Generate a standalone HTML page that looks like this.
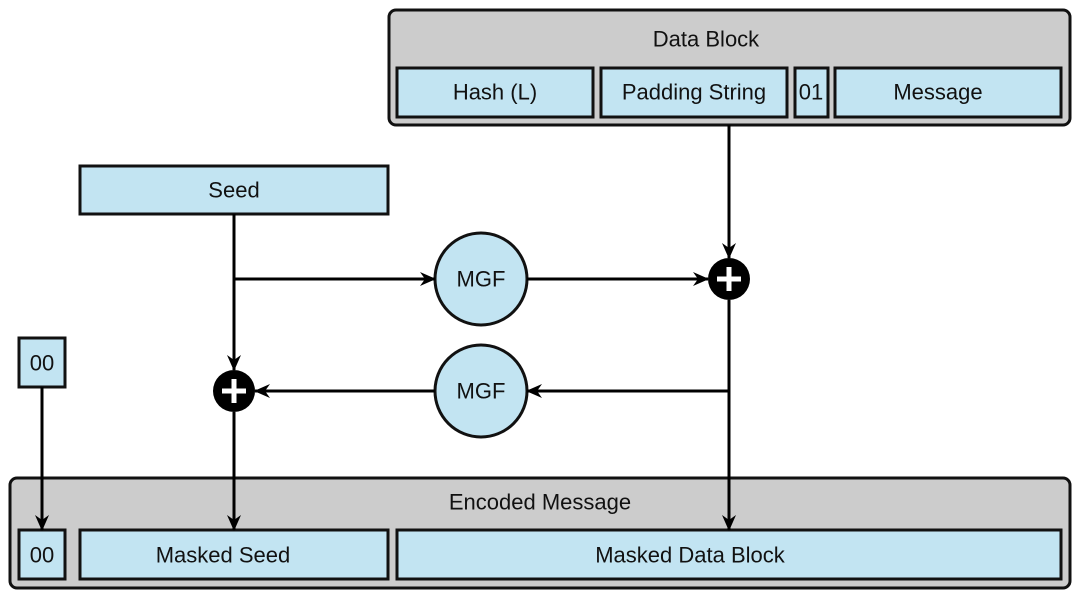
<!DOCTYPE html>
<html><head><meta charset="utf-8"><style>
html,body{margin:0;padding:0;background:#fff;}
svg{display:block;}
text{font-family:"Liberation Sans",sans-serif;font-size:22px;fill:#111;text-anchor:middle;dominant-baseline:central;}
</style></head><body>
<svg width="1080" height="598" viewBox="0 0 1080 598" xmlns="http://www.w3.org/2000/svg">
<defs>
<marker id="a" markerWidth="16" markerHeight="14" refX="15" refY="7" orient="auto" markerUnits="userSpaceOnUse">
<path d="M0,0 L16,7 L0,14 L5,7 Z" fill="#000"/>
</marker>
</defs>
<g stroke="#111" stroke-width="3">
<rect x="389" y="10" width="681" height="115" rx="7" fill="#cccccc"/>
<rect x="397" y="68" width="196" height="49" fill="#c2e4f2"/>
<rect x="601" y="68" width="186" height="49" fill="#c2e4f2"/>
<rect x="795" y="68" width="33" height="49" fill="#c2e4f2"/>
<rect x="835" y="68" width="226" height="49" fill="#c2e4f2"/>
<rect x="80" y="166" width="308" height="48" fill="#c2e4f2"/>
<rect x="19" y="338" width="46" height="49" fill="#c2e4f2"/>
<rect x="10" y="478" width="1060" height="110" rx="7" fill="#cccccc"/>
<rect x="19" y="530" width="46" height="49" fill="#c2e4f2"/>
<rect x="80" y="530" width="308" height="49" fill="#c2e4f2"/>
<rect x="397" y="530" width="664" height="49" fill="#c2e4f2"/>
<circle cx="481" cy="279" r="46" fill="#c2e4f2"/>
<circle cx="481" cy="391" r="46" fill="#c2e4f2"/>
</g>
<g stroke="#000" stroke-width="3" fill="none">
<line x1="234" y1="214" x2="234" y2="370" marker-end="url(#a)"/>
<line x1="234" y1="279" x2="435" y2="279" marker-end="url(#a)"/>
<line x1="527" y1="279" x2="708" y2="279" marker-end="url(#a)"/>
<line x1="729" y1="125" x2="729" y2="258" marker-end="url(#a)"/>
<line x1="729" y1="300" x2="729" y2="530" marker-end="url(#a)"/>
<line x1="729" y1="391" x2="527" y2="391" marker-end="url(#a)"/>
<line x1="435" y1="391" x2="255" y2="391" marker-end="url(#a)"/>
<line x1="234" y1="412" x2="234" y2="530" marker-end="url(#a)"/>
<line x1="42" y1="387" x2="42" y2="530" marker-end="url(#a)"/>
</g>
<g>
<circle cx="729" cy="279" r="21" fill="#000"/>
<path d="M729,267 V291 M717,279 H741" stroke="#fff" stroke-width="5"/>
<circle cx="234" cy="391" r="21" fill="#000"/>
<path d="M234,379 V403 M222,391 H246" stroke="#fff" stroke-width="5"/>
</g>
<text x="706" y="39">Data Block</text>
<text x="495" y="92">Hash (L)</text>
<text x="694" y="92">Padding String</text>
<text x="811" y="92">01</text>
<text x="938" y="92">Message</text>
<text x="234" y="190">Seed</text>
<text x="42" y="363">00</text>
<text x="481" y="279">MGF</text>
<text x="481" y="391">MGF</text>
<text x="540" y="502">Encoded Message</text>
<text x="42" y="555">00</text>
<text x="223" y="555">Masked Seed</text>
<text x="690" y="555">Masked Data Block</text>
</svg>
</body></html>
